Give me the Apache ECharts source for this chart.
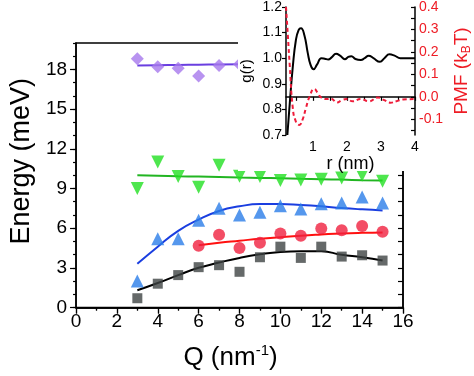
<!DOCTYPE html>
<html>
<head>
<meta charset="utf-8">
<script src="https://cdn.jsdelivr.net/npm/echarts@6/dist/echarts.min.js"></script>
<style>
  html, body { margin: 0; padding: 0; background: #fff; }
  #chart { width: 474px; height: 376px; }
</style>
</head>
<body>
<div id="chart"></div>
<script>
var FONT = "'Liberation Sans', Arial, sans-serif";

// main panel: dispersion data, Q (nm^-1) vs energy (meV)
var qAll = [3, 4, 5, 6, 7, 8, 9, 10, 11, 12, 13, 14, 15];
var qRed = [6, 7, 8, 9, 10, 11, 12, 13, 14, 15];
var qPurple = [3, 4, 5, 6, 7, 8];

var blackPts = [0.7, 1.8, 2.45, 3.05, 3.2, 2.7, 3.8, 4.6, 3.75, 4.6, 3.85, 3.95, 3.55];
var blackFit = [1.3, 1.85, 2.45, 3.0, 3.4, 3.75, 4.02, 4.2, 4.25, 4.25, 3.98, 3.8, 3.55];
var redPts = [4.67, 5.5, 4.5, 4.9, 5.6, 5.42, 5.97, 5.85, 6.17, 5.72];
var redFit = [4.7, 4.9, 5.05, 5.2, 5.32, 5.43, 5.52, 5.6, 5.65, 5.68];
var bluePts = [2.0, 5.2, 5.2, 6.6, 7.5, 7.0, 7.2, 7.7, 7.45, 7.85, 7.9, 8.35, 7.9];
var blueFit = [3.3, 4.6, 5.8, 6.65, 7.3, 7.65, 7.82, 7.82, 7.75, 7.65, 7.52, 7.42, 7.34];
var greenPts = [9.0, 11.0, 9.9, 9.1, 10.75, 9.93, 9.9, 9.6, 9.65, 9.7, 9.8, 10.0, 9.55];
var greenFit = [10.0, 9.97, 9.93, 9.9, 9.87, 9.83, 9.8, 9.77, 9.73, 9.7, 9.67, 9.63, 9.6];
var purplePts = [18.8, 18.2, 18.1, 17.5, 18.3, 18.4];
var purpleFit = [18.3, 18.32, 18.34, 18.36, 18.38, 18.4];

var xLabelsMain = [0, 2, 4, 6, 8, 10, 12, 14, 16];
var yLabelsMain = [0, 3, 6, 9, 12, 15, 18];
var yMinorMain = [0, 1, 2, 3, 4, 5, 6, 7, 8, 9, 10, 11, 12, 13, 14, 15, 16, 17, 18, 19, 20];

// inset: g(r) and PMF vs r (nm)
var gr = [[0.25, 0.70], [0.33, 0.84], [0.41, 0.967], [0.5, 1.07], [0.58, 1.11], [0.65, 1.117],
  [0.75, 1.09], [0.85, 1.02], [0.93, 0.975], [1.02, 0.957], [1.12, 0.975], [1.25, 1.0],
  [1.35, 0.998], [1.45, 0.995], [1.55, 1.003], [1.68, 1.017], [1.8, 1.01], [1.94, 0.996],
  [2.04, 1.005], [2.13, 1.008], [2.25, 0.997], [2.41, 0.993], [2.52, 1.0], [2.64, 1.01],
  [2.78, 1.0], [2.97, 0.986], [3.1, 1.0], [3.25, 1.015], [3.4, 1.01], [3.57, 1.0],
  [3.75, 1.0], [4.0, 1.0]];
var pmf = [[0.21, 0.40], [0.27, 0.26], [0.32, 0.14], [0.41, -0.05], [0.5, -0.11], [0.6, -0.125],
  [0.7, -0.1], [0.79, -0.053], [0.9, 0.0], [1.04, 0.035], [1.15, 0.015], [1.25, -0.004],
  [1.43, -0.01], [1.53, -0.008], [1.71, -0.025], [1.85, -0.015], [1.99, -0.01], [2.17, -0.02],
  [2.41, -0.01], [2.64, -0.02], [2.91, -0.003], [3.1, -0.015], [3.28, -0.026], [3.45, -0.02],
  [3.65, -0.012], [4.0, -0.01]];
var rLabels = [1, 2, 3, 4];
var gLabels = [0.7, 0.8, 0.9, 1.0, 1.1, 1.2];
var pmfLabels = [-0.1, 0.0, 0.1, 0.2, 0.3, 0.4];

function pairs(xs, ys) {
  return xs.map(function (x, i) { return [x, ys[i]]; });
}

var AX = { lineStyle: { color: '#000', width: 1.5 } };

var chart = echarts.init(document.getElementById('chart'));

function pts(name, xs, ys, symbol, size, color, rot) {
  return {
    name: name, type: 'scatter', xAxisIndex: 0, yAxisIndex: 0,
    data: pairs(xs, ys), symbol: symbol, symbolSize: size, symbolRotate: rot || 0,
    itemStyle: { color: color }, z: 3
  };
}
function fit(name, xs, ys, color) {
  return {
    name: name, type: 'line', xAxisIndex: 0, yAxisIndex: 0,
    data: pairs(xs, ys), smooth: true, showSymbol: false, symbol: 'none',
    lineStyle: { color: color, width: 2 }, z: 2
  };
}

var option = {
  animation: false,
  textStyle: { fontFamily: FONT },
  grid: [
    { left: 70, right: 71, top: 43, bottom: 65, show: true, borderColor: '#000', borderWidth: 1.5 },
    { left: 286, right: 52, top: 7, bottom: 241 }
  ],
  graphic: [
    { type: 'rect', shape: { x: 238, y: 0, width: 236, height: 171 }, style: { fill: '#fff' }, z: 50 }
  ],
  xAxis: [
    {
      gridIndex: 0, type: 'value', min: 0, max: 16, interval: 2, position: 'bottom',
      name: '{n|Q (nm}{s|-1}{n|)}', nameLocation: 'middle', nameGap: 36,
      nameTextStyle: {
        color: '#000', padding: [0, 18, 0, 0],
        rich: {
          n: { fontSize: 26, fontFamily: FONT, color: '#000' },
          s: { fontSize: 15, fontFamily: FONT, color: '#000', padding: [0, 0, 14, 0] }
        }
      },
      axisLine: AX,
      axisTick: { length: 6, lineStyle: { color: '#000', width: 1.2 } },
      minorTick: { show: true, splitNumber: 2, length: 3, lineStyle: { color: '#000', width: 1.2 } },
      axisLabel: { fontSize: 19, color: '#000', margin: 5 },
      splitLine: { show: false }
    },
    {
      gridIndex: 0, type: 'value', min: 0, max: 16, interval: 2, position: 'top',
      axisLine: AX,
      axisTick: { inside: true, length: 6, lineStyle: { color: '#000', width: 1.2 } },
      minorTick: { show: true, splitNumber: 2, length: 3, lineStyle: { color: '#000', width: 1.2 } },
      axisLabel: { show: false },
      splitLine: { show: false }
    },
    {
      gridIndex: 1, type: 'value', min: 0.21, max: 4, position: 'bottom', z: 60,
      name: 'r (nm)', nameLocation: 'middle', nameGap: 19,
      nameTextStyle: { fontSize: 18, color: '#000' },
      axisLine: AX,
      axisTick: { customValues: [0.5, 1, 1.5, 2, 2.5, 3, 3.5, 4], length: 4, lineStyle: { color: '#000', width: 1.2 } },
      axisLabel: { customValues: rLabels, fontSize: 14, color: '#000', margin: 5 },
      splitLine: { show: false }
    }
  ],
  yAxis: [
    {
      gridIndex: 0, type: 'value', min: 0, max: 20, position: 'left',
      name: 'Energy (meV)', nameLocation: 'middle', nameGap: 30,
      nameTextStyle: { fontSize: 27, color: '#000', padding: [0, 0, 0, 28] },
      axisLine: AX,
      axisTick: { customValues: yLabelsMain, length: 6, lineStyle: { color: '#000', width: 1.2 } },
      axisLabel: { customValues: yLabelsMain, fontSize: 19, color: '#000', margin: 9 },
      splitLine: { show: false }
    },
    {
      gridIndex: 0, type: 'value', min: 0, max: 20, position: 'left',
      axisLine: { show: false },
      axisTick: { customValues: yMinorMain, length: 3, lineStyle: { color: '#000', width: 1.2 } },
      axisLabel: { show: false },
      splitLine: { show: false }
    },
    {
      gridIndex: 0, type: 'value', min: 0, max: 20, position: 'right',
      axisLine: AX,
      axisTick: { customValues: yMinorMain, inside: true, length: 5, lineStyle: { color: '#000', width: 1.2 } },
      axisLabel: { show: false },
      splitLine: { show: false }
    },
    {
      gridIndex: 1, type: 'value', min: 0.7, max: 1.2, position: 'left', z: 60,
      name: 'g(r)', nameLocation: 'middle', nameGap: 32,
      nameTextStyle: { fontSize: 15, color: '#000' },
      axisLine: AX,
      axisTick: { customValues: gLabels, length: 4, lineStyle: { color: '#000', width: 1.2 } },
      axisLabel: { customValues: gLabels, fontSize: 14, color: '#000', margin: 4,
        formatter: function (v) { return v.toFixed(1); } },
      splitLine: { show: false }
    },
    {
      gridIndex: 1, type: 'value', min: -0.17, max: 0.4, position: 'right', z: 60,
      name: '{n|PMF (k}{b|B}{n|T)}', nameLocation: 'middle', nameGap: 36, nameRotate: 90,
      nameTextStyle: {
        color: '#ee1c25',
        rich: {
          n: { fontSize: 19, fontFamily: FONT, color: '#ee1c25' },
          b: { fontSize: 12, fontFamily: FONT, color: '#ee1c25', padding: [10, 0, 0, 0] }
        }
      },
      axisLine: AX,
      axisTick: { customValues: [-0.15, -0.1, -0.05, 0, 0.05, 0.1, 0.15, 0.2, 0.25, 0.3, 0.35, 0.4], inside: true, length: 4, lineStyle: { color: '#000', width: 1.2 } },
      axisLabel: { customValues: pmfLabels, fontSize: 14, color: '#ee1c25', margin: 4,
        formatter: function (v) { return v.toFixed(1); } },
      splitLine: { show: false }
    }
  ],
  series: [
    fit('black fit', qAll, blackFit, '#000000'),
    fit('red fit', qRed, redFit, '#ff1010'),
    fit('blue fit', qAll, blueFit, '#1a3ee0'),
    fit('green fit', qAll, greenFit, '#22b522'),
    fit('purple fit', qPurple, purpleFit, '#6a3fe0'),
    pts('black', qAll, blackPts, 'rect', 10, '#3f4444'),
    pts('red', qRed, redPts, 'circle', 12, '#f0203f'),
    pts('blue', qAll, bluePts, 'triangle', 13, '#2a7de8'),
    pts('green', qAll, greenPts, 'triangle', 13, '#22e022', 180),
    pts('purple', qPurple, purplePts, 'diamond', 13, '#a678ec'),
    {
      name: 'g(r)', type: 'line', xAxisIndex: 2, yAxisIndex: 3, data: gr,
      smooth: true, showSymbol: false, symbol: 'none', z: 60, clip: true,
      lineStyle: { color: '#000', width: 2 }
    },
    {
      name: 'PMF', type: 'line', xAxisIndex: 2, yAxisIndex: 4, data: pmf,
      smooth: true, showSymbol: false, symbol: 'none', z: 60, clip: true,
      lineStyle: { color: '#ee1c3a', width: 2, type: [4, 3] }
    }
  ]
};

chart.setOption(option);
</script>
</body>
</html>
